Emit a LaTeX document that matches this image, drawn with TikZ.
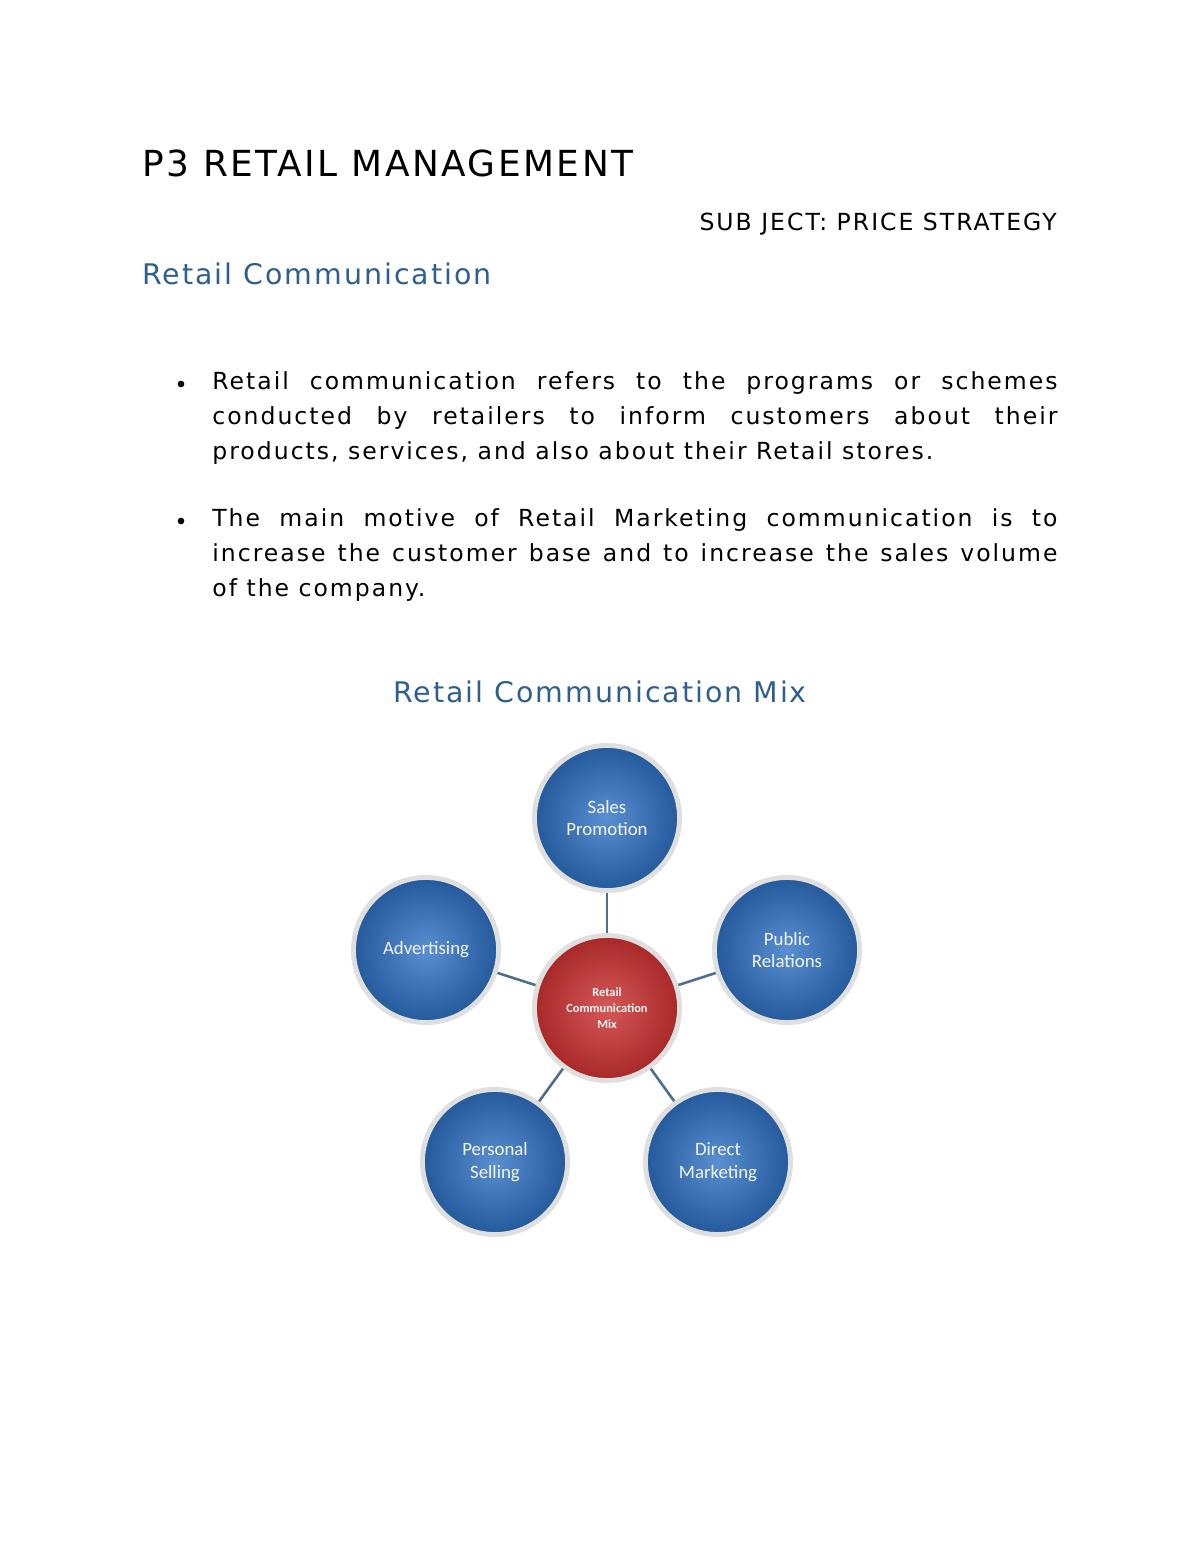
\documentclass[tikz,border=0pt]{standalone}
\usepackage{fontspec}
\setmainfont{DejaVu Sans}[LetterSpace=7]
\newfontfamily\bodyf{DejaVu Sans}[LetterSpace=8.5]
\newfontfamily\calib{Carlito}
\definecolor{headblue}{HTML}{2E5F8F}
\definecolor{ballblue}{HTML}{3C7BC8}
\definecolor{balldark}{HTML}{245A9C}
\definecolor{ballred}{HTML}{D04545}
\definecolor{reddark}{HTML}{A82828}
\definecolor{linkc}{HTML}{4D6E8C}
\begin{document}
\begin{tikzpicture}[x=0.51pt,y=-0.51pt,
  body/.style={anchor=north west,inner sep=0pt,text width=431pt,align=justify,font=\bodyf\fontsize{12}{17.9}\selectfont},
  bul/.style={circle,fill=black,inner sep=0pt,minimum size=3.4pt},
  bluec/.style={circle,minimum size=74pt,inner sep=0pt,inner color=ballblue!85!white,outer color=balldark,draw=gray!25,line width=2.5pt,text=white!92!gray,align=center,font=\calib\fontsize{9.6}{11.5}\selectfont},
  redc/.style={circle,minimum size=74pt,inner sep=0pt,inner color=ballred!90!white,outer color=reddark,draw=gray!25,line width=2.5pt,text=white!92!gray,align=center,font=\calib\bfseries\fontsize{6.3}{8.2}\selectfont},
  link/.style={draw=linkc,line width=1.3pt}]
\useasboundingbox[fill=white] (0,0) rectangle (1200,1553);
\node[anchor=base west,inner sep=0pt,font=\fontsize{18.3}{22}\selectfont] (title) at (142,177) {P3 RETAIL MANAGEMENT};
\node[anchor=base east,inner sep=0pt,font=\bodyf\fontsize{12}{15}\selectfont] (subj) at (1057,231) {SUB JECT: PRICE STRATEGY};
\node[anchor=base west,inner sep=0pt,text=headblue,font=\fontsize{14.5}{17}\selectfont] (h1) at (142,284) {Retail Communication};
\node[bul] (b1) at (181,384) {};
\node[body] (p1) at (212,371) {Retail communication refers to the programs or schemes\linebreak conducted by retailers to inform customers about their\linebreak products, services, and also about their Retail stores.};
\node[bul] (b2) at (181,521) {};
\node[body] (p2) at (212,508) {The main motive of Retail Marketing communication is to\linebreak increase the customer base and to increase the sales volume\linebreak of the company.};
\node[anchor=base,inner sep=0pt,text=headblue,font=\fontsize{14.5}{17}\selectfont] (h2) at (600,702) {Retail Communication Mix};
\node[redc] (c) at (607,1008) {Retail\\Communication\\Mix};
\node[bluec] (sp) at (607,818) {Sales\\Promotion};
\node[bluec] (ad) at (426,950) {Advertising};
\node[bluec] (pr) at (787,950) {Public\\Relations};
\node[bluec] (ps) at (495,1162) {Personal\\Selling};
\node[bluec] (dm) at (718,1162) {Direct\\Marketing};
\foreach \n in {sp,ad,pr,ps,dm} \draw[link] (c) -- (\n);
\end{tikzpicture}
\end{document}
